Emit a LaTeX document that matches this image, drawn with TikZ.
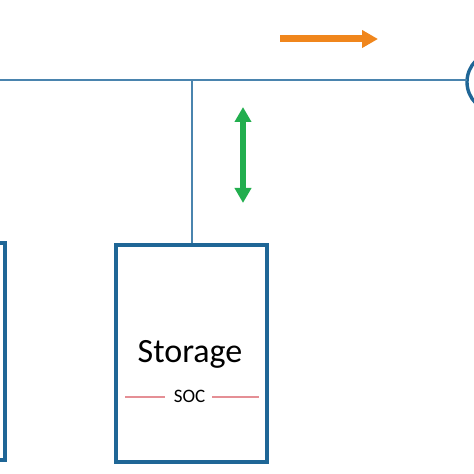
\documentclass[tikz,border=0pt]{standalone}
\usepackage{fontspec}
\setmainfont{Carlito}
\usetikzlibrary{arrows.meta}
\definecolor{boxblue}{HTML}{1F6696}
\definecolor{lineblue}{HTML}{4A84AE}
\definecolor{flowgreen}{HTML}{22AE4E}
\definecolor{floworange}{HTML}{F0861C}
\definecolor{socred}{HTML}{E58F95}
\tikzset{
  bus/.style={draw=lineblue, line width=1.8pt},
  unitbox/.style={draw=boxblue, line width=3.4pt},
  flowarrow/.style={line width=7pt, -{Triangle[width=17pt,length=16pt]}},
  socline/.style={draw=socred, line width=1.3pt}
}
\begin{document}
\begin{tikzpicture}[x=1pt,y=1pt]
\useasboundingbox (0,0) rectangle (474,474);
\clip (0,0) rectangle (474,474);
% coordinates (y = 474 - pixel y)
\coordinate (busL) at (0,394);
\coordinate (tap) at (192,394);
\coordinate (gridL) at (467,394);
% grid circle (partly outside)
\draw[unitbox] (497,392) circle (30);
% bus
\draw[bus] (busL) -- (gridL);
% storage box
\node[unitbox, minimum width=151pt, minimum height=217pt, inner sep=0pt] (storage) at (191.5,120.5) {};
\draw[bus] (tap) -- (storage.north -| tap);
% left box (partly outside)
\draw[unitbox] (-60,14) rectangle (5,231);
% labels
\node[font=\fontsize{34}{38}\selectfont, anchor=base] (stlabel) at (190,111) {Storage};
\node[font=\fontsize{19}{22}\selectfont, inner sep=1pt] (soc) at (189.5,78) {SOC};
\coordinate (socL1) at (125,77);
\coordinate (socR2) at (259,77);
\draw[socline] (socL1) -- (165,77);
\draw[socline] (212,77) -- (socR2);
% flows
\coordinate (gA) at (243,367);
\coordinate (gB) at (243,271);
\draw[flowarrow, line width=6pt, draw=flowgreen, fill=flowgreen, {Triangle[width=16pt,length=15pt]}-{Triangle[width=16pt,length=15pt]}] (gA) -- (gB);
\coordinate (oA) at (280,435);
\coordinate (oB) at (378,435);
\draw[flowarrow, draw=floworange, fill=floworange] (oA) -- (oB);
\end{tikzpicture}
\end{document}
